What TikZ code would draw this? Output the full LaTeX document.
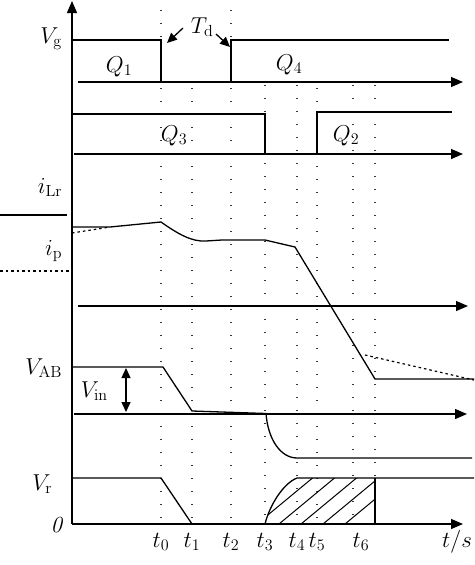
\RequirePackage{fix-cm}
\documentclass[tikz,border=0pt]{standalone}
\usepackage{amsmath}
\usepackage{tikz}
\usetikzlibrary{arrows.meta}

\begin{document}
\begin{tikzpicture}[x=1pt,y=1pt,yscale=-1,xscale=1,
  wave/.style={line width=1.3pt},
  axisline/.style={line width=1.3pt,-{Triangle[length=12pt,width=10pt]}},
  tline/.style={line width=1.7pt,black!80,dash pattern=on 1.4pt off 11.6pt},
  dotline/.style={line width=1.2pt,dash pattern=on 2.5pt off 3pt},
  lbl/.style={inner sep=0.75pt,font=\fontsize{23}{27}\selectfont}]
\useasboundingbox (0,0) rectangle (474,565);

%Straight Lines: time instants
\foreach \xt/\ys in {161/10,192/88,231/10,265/85,297/85,317/88,353/85,375/85}
  \draw [tline] (\xt,\ys) -- (\xt,521);

%Shape: vertical axis
\draw [axisline] (72,524) -- (72,1);

%Straight Lines: Q1 and Q4
\draw [axisline] (78,82) -- (463,82);
\draw [wave] (72,40) -- (161,40) -- (161,82);
\draw [wave] (231,82) -- (231,40) -- (449,40);
%Straight Lines: Q3 and Q2
\draw [axisline] (74,154) -- (463,154);
\draw [wave] (72,114) -- (265,114) -- (265,154);
\draw [wave] (317,154) -- (317,112) -- (452,112);

%Straight Lines: iLr
\draw [wave] (0,215) -- (67,215);
\draw [dotline] (0,271) -- (72,271);
\draw [axisline] (78,306) -- (468,306);
\draw [wave] (72,227) -- (110,227) -- (161,222) .. controls (178,234) and (192,242) .. (206,241) -- (222,240) -- (265,240) -- (295,247) -- (375,379) -- (474,379);
\draw [dotline] (72,233) -- (110,227);
\draw [dotline] (365,355) -- (474,380);

%Straight Lines: VAB
\draw [axisline] (74,414) -- (467,414);
\draw [wave] (72,367) -- (163,367) -- (192,411) -- (266,413.5) .. controls (268,440) and (281,458) .. (297,458) -- (472,458);
\draw [line width=1.3pt,{Triangle[length=10pt,width=9pt]}-{Triangle[length=10pt,width=9pt]}] (126,368) -- (126,412);

%Straight Lines: Vr
\draw [axisline] (72,524) -- (463,524);
\draw [wave] (72,478) -- (161,478) -- (192,524);
\draw [wave] (265,524) .. controls (270,504) and (284,483) .. (297,478) -- (474,478);
\draw [wave] (375,478) -- (375,524);
%Shape: hatch
\begin{scope}
  \clip (265,524) .. controls (270,504) and (284,483) .. (297,478) -- (375,478) -- (375,524) -- cycle;
  \foreach \xh in {257,279,301,323,345}
    \draw [line width=1pt] (\xh,524) -- ++(70,-58);
\end{scope}

%Right Arrows: dead time
\draw [line width=1.3pt,-{Triangle[length=10pt,width=9pt]}] (183,28) -- (167,43);
\draw [line width=1.3pt,-{Triangle[length=10pt,width=9pt]}] (216,34) -- (230,47);

% Text Node
\node [lbl,anchor=base east] (vg) at (63,43) {$V_{\mathrm{g}}$};
% Text Node
\node [lbl,anchor=base west] (td) at (190,33) {$T_{\mathrm{d}}$};
% Text Node
\node [lbl,anchor=base west] (q1) at (105,72) {$Q_{1}$};
% Text Node
\node [lbl,anchor=base west] (q4) at (275,70) {$Q_{4}$};
% Text Node
\node [lbl,anchor=base west] (q3) at (160,141) {$Q_{3}$};
% Text Node
\node [lbl,anchor=base west] (q2) at (332,141) {$Q_{2}$};
% Text Node
\node [lbl,anchor=base east] (ilr) at (63,193) {$i_{\mathrm{Lr}}$};
% Text Node
\node [lbl,anchor=base east] (ip) at (63,255) {$i_{\mathrm{p}}$};
% Text Node
\node [lbl,anchor=base east] (vab) at (63,374) {$V_{\mathrm{AB}}$};
% Text Node
\node [lbl,anchor=base west] (vin) at (80,397) {$V_{\mathrm{in}}$};
% Text Node
\node [lbl,anchor=base east] (vr) at (53,490) {$V_{\mathrm{r}}$};
% Text Node
\node [lbl,anchor=base east] (zero) at (63,532) {\itshape 0};
% Text Nodes: time instants
\foreach \xt/\i in {161/0,192/1,231/2,265/3,297/4,317/5,361/6}
  \node [lbl,anchor=base] (t\i) at (\xt,547) {$t_{\i}$};
% Text Node
\node [lbl,anchor=base east] (ts) at (473,547) {$t/s$};

\end{tikzpicture}
\end{document}
